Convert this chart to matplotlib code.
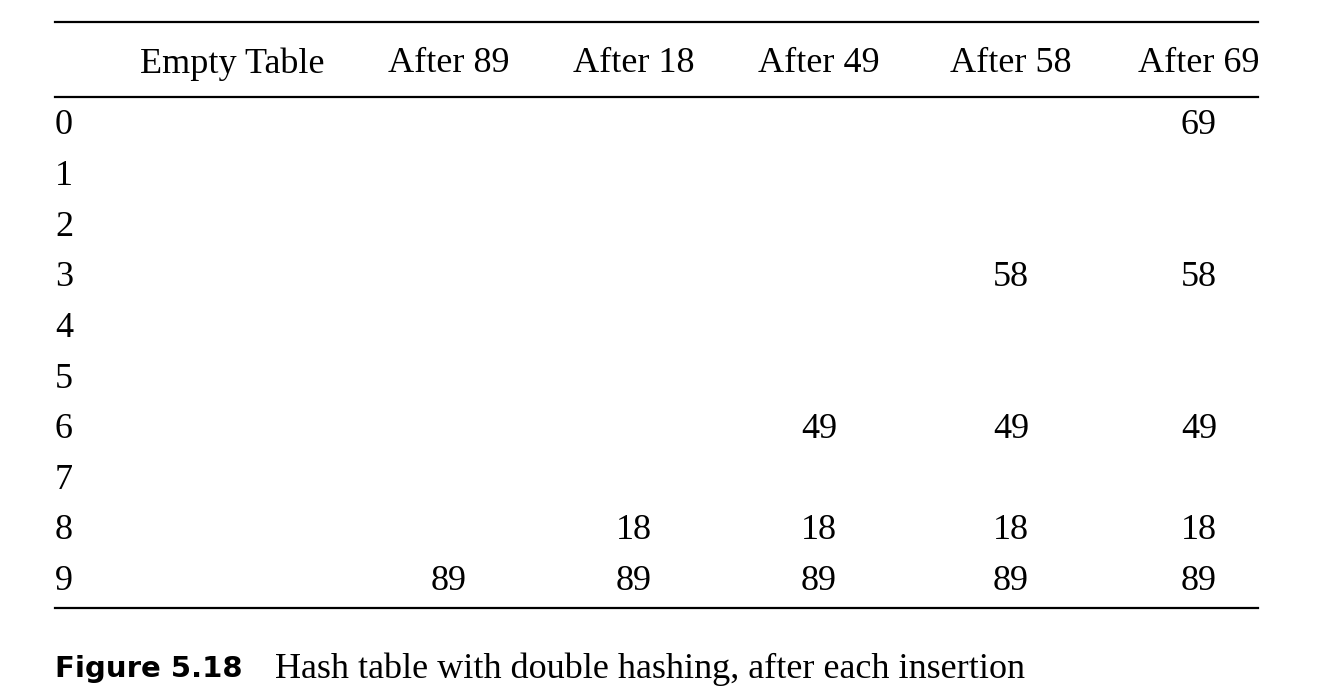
import matplotlib
matplotlib.use("Agg")
import matplotlib.pyplot as plt
from matplotlib.lines import Line2D

headers = ["Empty Table", "After 89", "After 18", "After 49", "After 58", "After 69"]
rows = [str(i) for i in range(10)]
# cell contents: columns -> {row: value}
cols = [
    {},
    {9: "89"},
    {8: "18", 9: "89"},
    {6: "49", 8: "18", 9: "89"},
    {3: "58", 6: "49", 8: "18", 9: "89"},
    {0: "69", 3: "58", 6: "49", 8: "18", 9: "89"},
]
caption_bold = "Figure 5.18"
caption = "Hash table with double hashing, after each insertion"

W, H = 1319, 690
fig = plt.figure(figsize=(W/100, H/100), dpi=100)
ax = fig.add_axes([0, 0, 1, 1])
ax.set_xlim(0, W); ax.set_ylim(H, 0); ax.axis("off")

serif = "Liberation Serif"
fs = 26
colx = [232, 449, 634, 819, 1011, 1199]
rowy = [126 + i * 50.6 for i in range(10)]

for y in (22, 97, 608):
    ax.add_line(Line2D([55, 1258], [y, y], color="black", lw=1.6))

for x, h in zip(colx, headers):
    ax.text(x, 64, h, ha="center", va="center", fontsize=fs, family=serif)
for y, r in zip(rowy, rows):
    ax.text(55, y, r, ha="left", va="center", fontsize=fs, family=serif)
for x, c in zip(colx, cols):
    for r, v in c.items():
        ax.text(x, rowy[r], v, ha="center", va="center", fontsize=fs, family=serif)

ax.text(55, 669, caption_bold, ha="left", va="center", fontsize=21, family="DejaVu Sans",
        weight="bold")
ax.text(275, 669, caption, ha="left", va="center", fontsize=fs, family=serif)

fig.savefig("out.png", dpi=100)
